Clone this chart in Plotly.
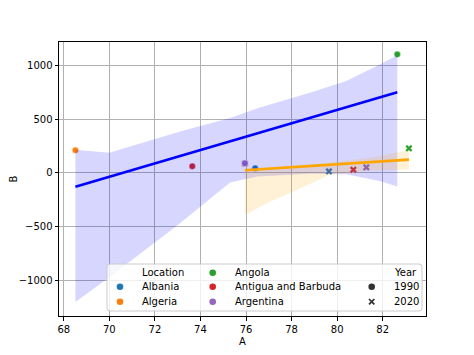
import numpy as np
import plotly.graph_objects as go

# ---------------- data ----------------
locations = ["Albania", "Algeria", "Angola", "Antigua and Barbuda", "Argentina"]
loc_colors = ["#1f77b4", "#ff7f0e", "#2ca02c", "#d62728", "#9467bd"]

a_1990 = [76.40, 68.51, 82.64, 73.64, 75.95]
b_1990 = [41, 209, 1103, 60, 88]
a_2020 = [79.64, 75.95, 83.15, 80.71, 81.28]
b_2020 = [12, 85, 227, 28, 50]

# confidence bands
ci1990_x = [68.51, 70.0, 73.1, 75.3, 76.5, 78.8, 80.4, 81.9, 82.64]
ci1990_upper = [215, 185, 385, 510, 600, 745, 855, 1010, 1095]
ci1990_lower = [-1205, -975, -470, -90, -35, -10, -15, -80, -128]

ci2020_x = [75.95, 77.0, 78.35, 79.67, 81.5, 83.15]
ci2020_upper = [38, 55, 72, 95, 140, 212]
ci2020_lower = [-395, -275, -150, -19, 20, 30]

x_ticks = [68, 70, 72, 74, 76, 78, 80, 82]
y_ticks = [-1000, -500, 0, 500, 1000]
y_tick_text = ["\u22121000", "\u2212500", "0", "500", "1000"]

FONT = "DejaVu Sans"
fig = go.Figure()

# scatter points (2020 first so Argentina 1990 circle covers Algeria 2020)
fig.add_trace(go.Scatter(
    x=a_2020, y=b_2020, mode="markers",
    marker=dict(symbol="x", size=6.5, color=loc_colors, line=dict(width=0.4, color="white")),
    showlegend=False, hoverinfo="skip"))
fig.add_trace(go.Scatter(
    x=a_1990, y=b_1990, mode="markers",
    marker=dict(symbol="circle", size=6.5, color=loc_colors, line=dict(width=0.5, color="white")),
    showlegend=False, hoverinfo="skip"))

# bands
def band(xs, up, lo, color):
    fig.add_trace(go.Scatter(
        x=list(xs) + list(xs)[::-1], y=list(up) + list(lo)[::-1],
        fill="toself", fillcolor=color, line=dict(width=0), mode="lines",
        showlegend=False, hoverinfo="skip"))

band(ci1990_x, ci1990_upper, ci1990_lower, "rgba(0,0,255,0.16)")
band(ci2020_x, ci2020_upper, ci2020_lower, "rgba(255,165,0,0.16)")

# regression lines
def reg(xs, ys, color):
    xs = np.array(xs, dtype=float)
    ys = np.array(ys, dtype=float)
    k, c = np.polyfit(xs, ys, 1)
    xe = np.array([xs.min(), xs.max()])
    fig.add_trace(go.Scatter(x=xe, y=k * xe + c, mode="lines",
                             line=dict(color=color, width=2.6),
                             showlegend=False, hoverinfo="skip"))

reg(a_1990, b_1990, "#0000ff")
reg(a_2020, b_2020, "#ffa500")

# ---------------- layout ----------------
# page coordinates of plot area (the page body adds an 8px offset)
OFF = 8
L, R, T, B = 59, 426, 42, 316
W, H = 474 - OFF, 355 - OFF
def px2paper(px, py):
    return (px - L) / (R - L), (B - py) / (B - T)

shapes = []
annotations = []
# legend box with rounded corners
bx0, by0 = px2paper(107, 311)
bx1, by1 = px2paper(422, 264)
rx, ry = 3 / (R - L), 3 / (B - T)
box_path = (f"M {bx0+rx} {by0} L {bx1-rx} {by0} Q {bx1} {by0} {bx1} {by0+ry} "
            f"L {bx1} {by1-ry} Q {bx1} {by1} {bx1-rx} {by1} "
            f"L {bx0+rx} {by1} Q {bx0} {by1} {bx0} {by1-ry} "
            f"L {bx0} {by0+ry} Q {bx0} {by0} {bx0+rx} {by0} Z")
shapes.append(dict(type="path", xref="paper", yref="paper", path=box_path,
                   fillcolor="rgba(255,255,255,0.8)", line=dict(color="#cccccc", width=1),
                   layer="above"))

rows_py = [272.7, 286.7, 301.7]
cols = [(120, 140), (212.7, 232.7), (371.7, 391.7)]
legend_entries = [
    (0, 0, "Location", None, None),
    (0, 1, locations[0], "circle", loc_colors[0]),
    (0, 2, locations[1], "circle", loc_colors[1]),
    (1, 0, locations[2], "circle", loc_colors[2]),
    (1, 1, locations[3], "circle", loc_colors[3]),
    (1, 2, locations[4], "circle", loc_colors[4]),
    (2, 0, "Year", None, None),
    (2, 1, "1990", "circle", "#333333"),
    (2, 2, "2020", "x", "#333333"),
]
for ci, ri, label, sym, col in legend_entries:
    mx, tx = cols[ci]
    py = rows_py[ri]
    pxm, pym = px2paper(mx, py)
    ptx, _ = px2paper(tx, py)
    annotations.append(dict(x=ptx, y=pym, xref="paper", yref="paper", text=label,
                            showarrow=False, xanchor="left", yanchor="middle",
                            font=dict(family=FONT, size=10, color="black")))
    if sym == "circle":
        shapes.append(dict(type="circle", xref="paper", yref="paper",
                           xsizemode="pixel", ysizemode="pixel", xanchor=pxm, yanchor=pym,
                           x0=-3.3, x1=3.3, y0=-3.3, y1=3.3, fillcolor=col,
                           line=dict(width=0), layer="above"))
    elif sym == "x":
        a, b = 3.3, 1.2
        path = (f"M {-a} {-a+b} L {-a+b} {-a} L 0 {-b} L {a-b} {-a} L {a} {-a+b} L {b} 0 "
                f"L {a} {a-b} L {a-b} {a} L 0 {b} L {-a+b} {a} L {-a} {a-b} L {-b} 0 Z")
        shapes.append(dict(type="path", xref="paper", yref="paper",
                           xsizemode="pixel", ysizemode="pixel", xanchor=pxm, yanchor=pym,
                           path=path, fillcolor=col, line=dict(width=0), layer="above"))

axis_common = dict(
    showgrid=True, gridcolor="#b0b0b0", gridwidth=0.8,
    showline=True, linecolor="black", linewidth=1, mirror=True,
    ticks="outside", ticklen=3.5, tickwidth=0.8, tickcolor="black",
    tickfont=dict(family=FONT, size=10, color="black"),
    zeroline=False, automargin=False,
)

fig.update_layout(
    width=W, height=H,
    margin=dict(l=L - OFF, r=474 - R, t=T - OFF, b=355 - B),
    paper_bgcolor="white", plot_bgcolor="white",
    showlegend=False,
    xaxis=dict(range=[67.79, 83.90], tickvals=x_ticks,
               title=dict(text="A", standoff=4, font=dict(family=FONT, size=10, color="black")),
               **axis_common),
    yaxis=dict(range=[-1335, 1218], tickvals=y_ticks, ticktext=y_tick_text,
               title=dict(text="B", standoff=18, font=dict(family=FONT, size=10, color="black")),
               **axis_common),
    shapes=shapes, annotations=annotations,
)

fig.write_html("out.html")
